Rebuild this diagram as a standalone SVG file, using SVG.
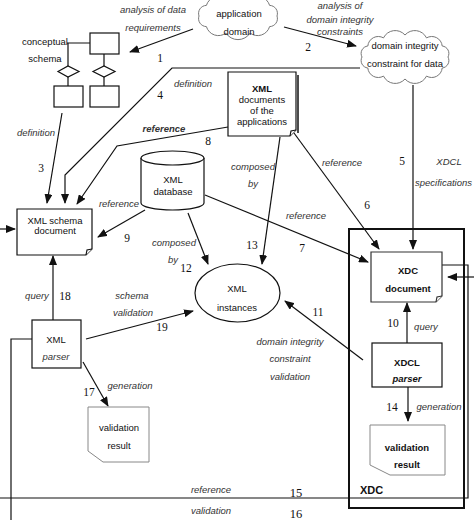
<svg xmlns="http://www.w3.org/2000/svg" width="474" height="520" viewBox="0 0 474 520">
<style>
.t{font-family:"Liberation Sans",Arial,sans-serif;font-size:9.5px;fill:#111;text-anchor:middle}
.i{font-style:italic;fill:#333}
.b{font-weight:bold}
.n{font-family:"Liberation Serif","Times New Roman",serif;font-size:11.5px;fill:#111;text-anchor:middle}
.sh{fill:#fff;stroke:#111;stroke-width:1.2}
.gr{fill:#fff;stroke:#888;stroke-width:1}
.cl{fill:#fff;stroke:#777;stroke-width:1}
.c{fill:none;stroke:#111;stroke-width:1.2}
.ca{fill:none;stroke:#111;stroke-width:1.2;marker-end:url(#ah)}
</style>
<defs>
<marker id="ah" markerUnits="userSpaceOnUse" markerWidth="10" markerHeight="8" refX="9" refY="4" orient="auto">
<path d="M0,0 L10,4 L0,8 Z" fill="#111"/>
</marker>
</defs>
<rect width="474" height="520" fill="#fff"/>

<g id="connectors">
<path class="ca" d="M193,29 L130,52"/>
<path class="ca" d="M284,27 L356,46"/>
<path class="ca" d="M62,113 L47,203"/>
<path class="ca" d="M360,68 H172 L65,175 V203"/>
<path class="ca" d="M228,127 L117,146 L77,204"/>
<path class="ca" d="M145,210 L98,237"/>
<path class="ca" d="M205,195 L368,262"/>
<path class="ca" d="M294,133 L379,249"/>
<path class="ca" d="M413,85 V249"/>
<path class="ca" d="M280,137 L262,264"/>
<path class="ca" d="M188,213 L208,264"/>
<path class="ca" d="M363,360 L285,301"/>
<path class="ca" d="M86,339 L193,311"/>
<path class="ca" d="M53,320 V256"/>
<path class="ca" d="M83,362 L108,406"/>
<path class="ca" d="M407,343 V303"/>
<path class="ca" d="M408,387 V421"/>
<path class="c" d="M442,265 H468 V498 H-5"/>
<path class="ca" d="M-5,229 H15"/>
<path class="c" d="M32,339 H11 V525"/>
<path class="ca" d="M480,277 H448"/>
</g>

<g id="cloud-app">
<path class="cl" d="M277,16 A8,8 0 0 1 269.6,26.6 A12.5,12.5 0 0 1 250.1,33.1 A14.5,14.5 0 0 1 225.9,33.1 A12.5,12.5 0 0 1 206.4,26.6 A8,8 0 0 1 199,16 A8,8 0 0 1 206.4,5.4 A12.5,12.5 0 0 1 225.9,-1.1 A14.5,14.5 0 0 1 250.1,-1.1 A12.5,12.5 0 0 1 269.6,5.4 A8,8 0 0 1 277,16 Z"/>
<text class="t" x="239" y="17">application</text>
<text class="t" x="239" y="35">domain</text>
</g>

<g id="cloud-dic">
<path class="cl" d="M448,57 A7.5,7.5 0 0 1 442.2,68 A10.5,10.5 0 0 1 426.5,76.1 A13,13 0 0 1 405,79 A13,13 0 0 1 383.5,76.1 A10.5,10.5 0 0 1 367.8,68 A7.5,7.5 0 0 1 362,57 A7.5,7.5 0 0 1 367.8,46 A10.5,10.5 0 0 1 383.5,37.9 A13,13 0 0 1 405,35 A13,13 0 0 1 426.5,37.9 A10.5,10.5 0 0 1 442.2,46 A7.5,7.5 0 0 1 448,57 Z"/>
<text class="t" x="405" y="49">domain integrity</text>
<text class="t" x="405" y="67">constraint for data</text>
</g>

<g id="conceptual-schema">
<path class="c" d="M67,43 H90 M68,43 V66 M68,77 V86 M104,54 V66 M104,77 V86"/>
<rect class="sh" x="90" y="33" width="29" height="21"/>
<path class="sh" d="M58,71.5 L68,66 L79,71.5 L68,77 Z"/>
<path class="sh" d="M93,71.5 L104,66 L115,71.5 L104,77 Z"/>
<rect class="sh" x="54" y="86" width="29" height="21"/>
<rect class="sh" x="90" y="86" width="29" height="21"/>
<text class="t" x="45" y="45">conceptual</text>
<text class="t" x="45" y="62">schema</text>
</g>

<g id="xml-docs">
<path class="c" d="M298,75 V133" style="stroke-width:1.5"/>
<path class="sh" d="M228,72 H296 V130 L290,136 H228 Z"/>
<path class="sh" d="M290,136 L291,131 L296,130"/>
<text class="t b" x="262" y="92">XML</text>
<text class="t" x="262" y="103">documents</text>
<text class="t" x="262" y="114">of the</text>
<text class="t" x="262" y="125">applications</text>
</g>

<g id="xml-database">
<path class="sh" d="M141,158 V203 A31.5,7 0 0 0 204,203 V158"/>
<ellipse class="sh" cx="172.5" cy="158" rx="31.5" ry="7"/>
<text class="t" x="173" y="183">XML</text>
<text class="t" x="173" y="195">database</text>
</g>

<g id="xml-schema-doc">
<path class="sh" d="M17,209 H92 V249 L86,255 H17 Z"/>
<path class="sh" d="M86,255 L87,250 L92,249"/>
<text class="t" x="55" y="224">XML schema</text>
<text class="t" x="55" y="234">document</text>
</g>

<g id="xml-instances">
<ellipse class="sh" cx="237.5" cy="293" rx="42.5" ry="29"/>
<text class="t" x="237" y="292">XML</text>
<text class="t" x="237" y="311">instances</text>
</g>

<g id="xml-parser">
<rect class="sh" x="32" y="320" width="49" height="48"/>
<text class="t" x="56" y="343">XML</text>
<text class="t i" x="56" y="360">parser</text>
</g>

<g id="validation-result-left">
<path class="gr" d="M88,407 H149 V462 H103 L88,451 Z"/>
<text class="t" x="119" y="431">validation</text>
<text class="t" x="119" y="449">result</text>
</g>

<g id="xdc">
<rect x="349" y="229" width="115" height="279" fill="none" stroke="#111" stroke-width="2"/>
<text class="t b" x="360" y="494" style="text-anchor:start;font-size:11px">XDC</text>
</g>

<g id="xdc-document">
<path class="sh" d="M371,252 H442 V296 L436,302 H371 Z" style="stroke:#333"/>
<path class="sh" d="M436,302 L437,297 L442,296" style="stroke:#333"/>
<text class="t b" x="408" y="274">XDC</text>
<text class="t b" x="408" y="292">document</text>
</g>

<g id="xdcl-parser">
<rect class="sh" x="372" y="343" width="70" height="44"/>
<text class="t b" x="407" y="366">XDCL</text>
<text class="t b i" x="407" y="382" style="fill:#111">parser</text>
</g>

<g id="validation-result-right">
<path class="gr" d="M370,425 H445 V475 H390 L370,465 Z"/>
<text class="t b" x="407" y="451">validation</text>
<text class="t b" x="407" y="468">result</text>
</g>

<g id="labels">
<text class="t i" x="153" y="13">analysis of data</text>
<text class="t i" x="153" y="31">requirements</text>
<text class="n" x="160" y="62">1</text>
<text class="t i" x="340" y="9">analysis of</text>
<text class="t i" x="340" y="23">domain integrity</text>
<text class="t i" x="340" y="35">constraints</text>
<text class="n" x="308" y="51">2</text>
<text class="t i" x="193" y="87">definition</text>
<text class="n" x="160" y="99">4</text>
<text class="t i" x="36" y="136">definition</text>
<text class="n" x="41" y="172">3</text>
<text class="t i b" x="164" y="132">reference</text>
<text class="n" x="208" y="145">8</text>
<text class="t i" x="119" y="207">reference</text>
<text class="n" x="127" y="242">9</text>
<text class="t i" x="253" y="170">composed</text>
<text class="t i" x="253" y="187">by</text>
<text class="t i" x="342" y="166">reference</text>
<text class="n" x="402" y="165">5</text>
<text class="t i" x="449" y="165">XDCL</text>
<text class="t i" x="472" y="186" style="text-anchor:end">specifications</text>
<text class="n" x="367" y="209">6</text>
<text class="t i" x="306" y="219">reference</text>
<text class="n" x="302" y="252">7</text>
<text class="n" x="252" y="249">13</text>
<text class="t i" x="174" y="246">composed</text>
<text class="t i" x="173" y="263">by</text>
<text class="n" x="186" y="272">12</text>
<text class="n" x="318" y="316">11</text>
<text class="t i" x="290" y="345">domain integrity</text>
<text class="t i" x="290" y="362">constraint</text>
<text class="t i" x="290" y="380">validation</text>
<text class="t i" x="132" y="299">schema</text>
<text class="t i" x="133" y="316">validation</text>
<text class="n" x="162" y="331">19</text>
<text class="t i" x="37" y="299">query</text>
<text class="n" x="65" y="300">18</text>
<text class="n" x="89" y="396">17</text>
<text class="t i" x="130" y="389">generation</text>
<text class="n" x="393" y="327">10</text>
<text class="t i" x="426" y="330">query</text>
<text class="n" x="392" y="411">14</text>
<text class="t i" x="439" y="410">generation</text>
<text class="t i" x="211" y="493">reference</text>
<text class="n" x="296" y="497" style="font-size:12.5px">15</text>
<text class="t i" x="211" y="514">validation</text>
<text class="n" x="296" y="518" style="font-size:12.5px">16</text>
</g>
</svg>
